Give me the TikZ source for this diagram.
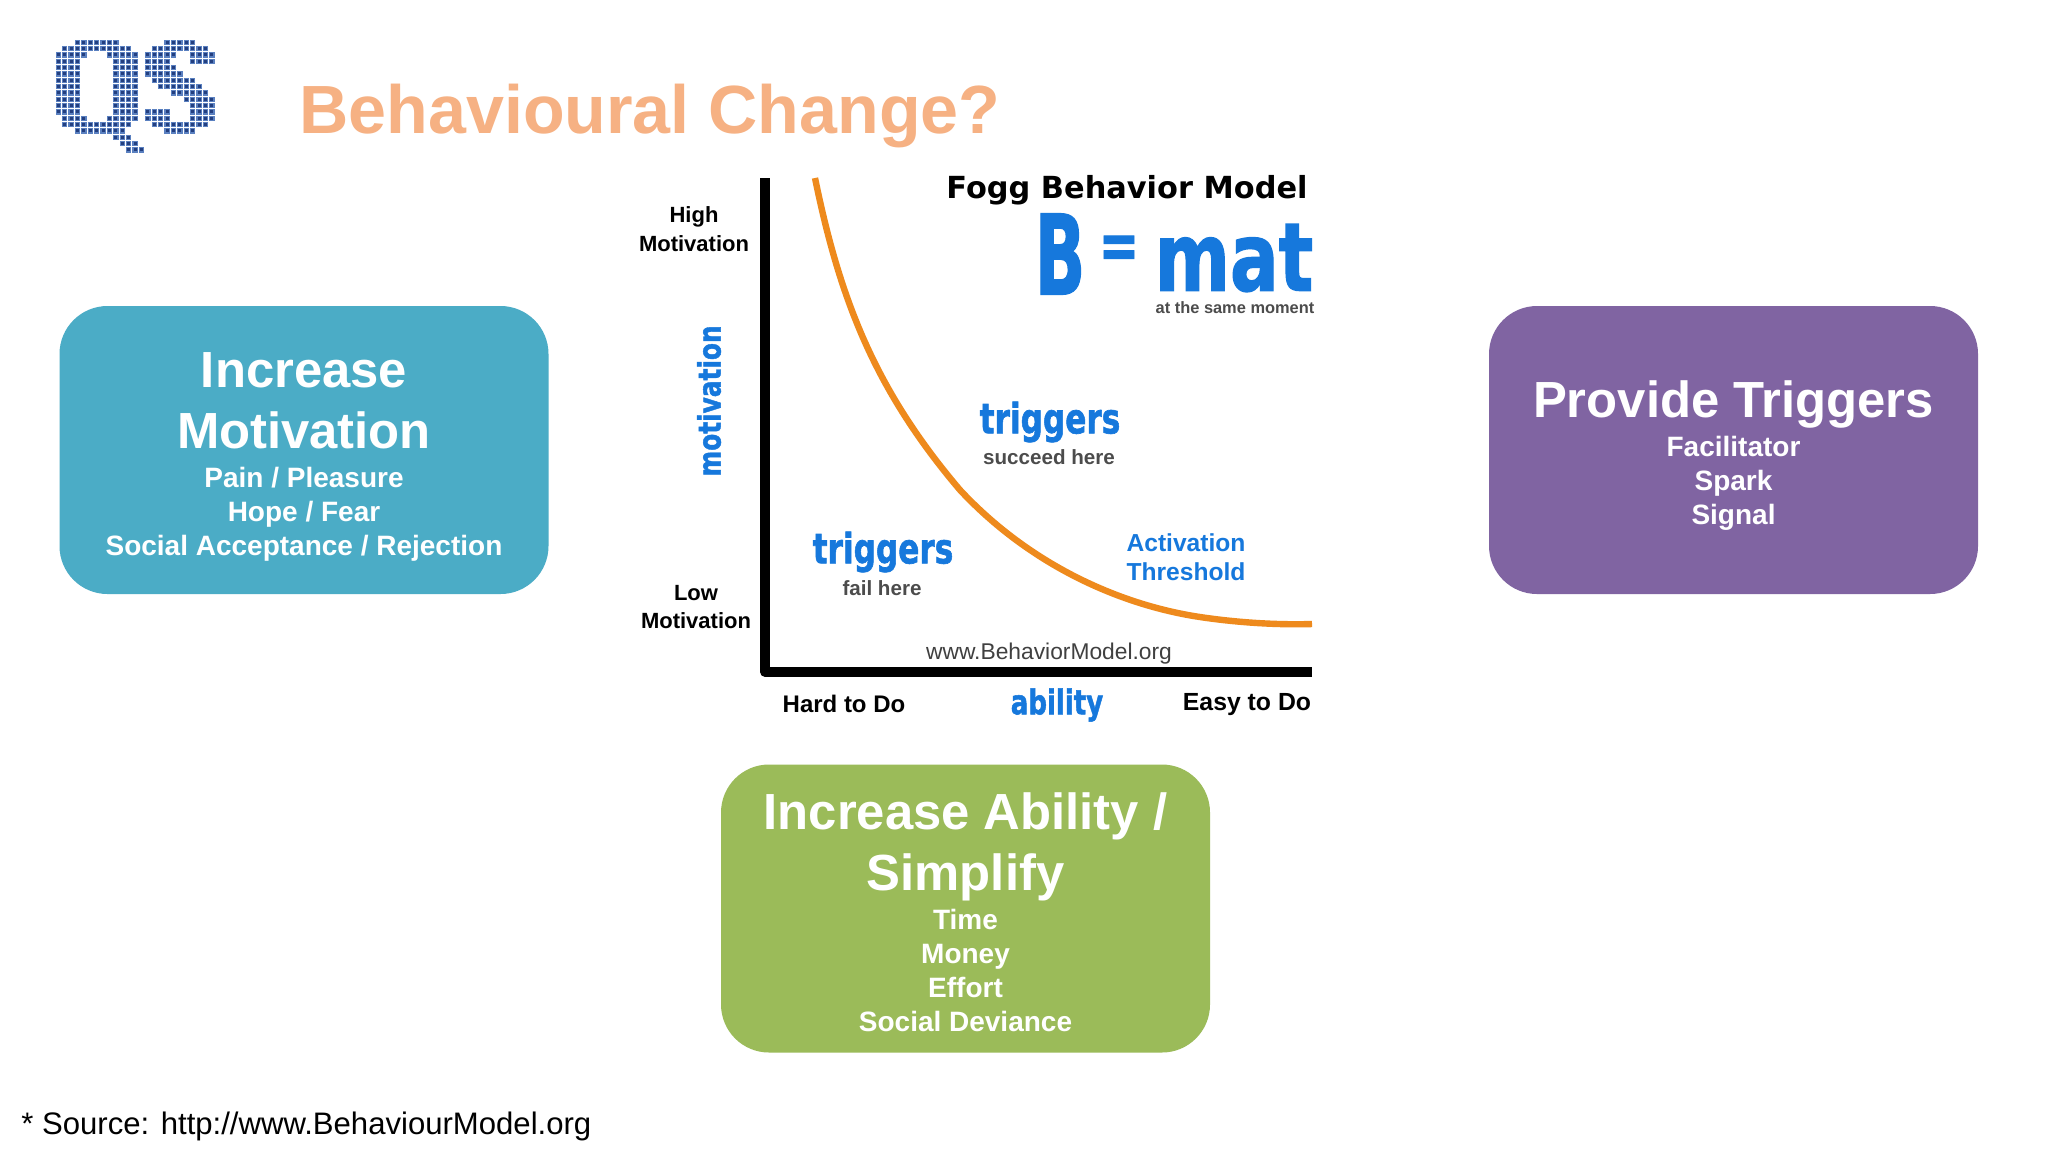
\documentclass[tikz,border=0pt]{standalone}
\usepackage{fontspec}
\setmainfont{Liberation Sans}
\newfontfamily\handfont[BoldFeatures={FakeBold=1.6}]{DejaVu Sans}
\newfontfamily\plainhead{DejaVu Sans}
\definecolor{cblue}{HTML}{4BACC6}
\definecolor{cpurple}{HTML}{8064A2}
\definecolor{cgreen}{HTML}{9BBB59}
\definecolor{ctitle}{HTML}{F6B183}
\definecolor{cmodel}{HTML}{1678DC}
\definecolor{ccurve}{HTML}{EE8A1D}
\definecolor{clogo}{HTML}{5A80C0}
\definecolor{clogod}{HTML}{233F7F}
\begin{document}
\begin{tikzpicture}[x=0.5pt,y=-0.5pt,
  card/.style={rounded corners=24pt,minimum width=244.5pt,minimum height=144pt,inner sep=0pt},
  cardhead/.style={anchor=base,inner sep=0pt,text=white,font=\fontsize{25.4}{30.5}\selectfont\bfseries},
  cardsub/.style={anchor=base,inner sep=0pt,text=white,font=\fontsize{14}{17}\selectfont\bfseries},
  blk/.style={text=black,align=center,inner sep=0pt,font=\fontsize{11}{14.2}\selectfont\bfseries},
  trig/.style={text=cmodel,inner sep=0pt,font=\handfont\fontsize{19}{22}\selectfont\bfseries},
  gry/.style={text=black!70,inner sep=0pt,font=\fontsize{10.3}{12}\selectfont\bfseries}]
\fill[white] (0,0) rectangle (2048,1152);
\useasboundingbox (0,0) rectangle (2048,1152);
% logo
\foreach \r/\a/\b in {0/3/9,0/17/21,1/1/11,1/15/23,2/0/4,2/8/12,2/14/18,2/21/24,3/0/3,3/9/12,3/14/17,3/21/24,
 4/0/3,4/9/12,4/14/18,5/0/3,5/9/12,5/14/19,6/0/3,6/9/12,6/15/21,7/0/3,7/9/12,7/16/22,8/0/3,8/9/12,8/18/23,
 9/0/3,9/9/12,9/20/24,10/0/3,10/9/12,10/21/24,11/0/3,11/9/12,11/14/17,11/21/24,12/1/4,12/8/12,12/14/17,12/21/24,
 13/1/11,13/15/23,14/3/10,14/17/21,15/9/11,16/10/12,17/11/13}
 \foreach \c in {\a,...,\b}{
  \fill[clogo] ({58.3+6.4*\c-2.7},{42.3+6.33*\r-2.7}) rectangle ++(5.4,5.4);
  \fill[clogod] ({58.3+6.4*\c-1.5},{42.3+6.33*\r-1.5}) rectangle ++(3,3);
 }
% title
\node[anchor=base west,inner sep=0pt,text=ctitle,font=\fontsize{34.1}{36}\selectfont\bfseries] (title) at (299,133) {Behavioural Change?};
% cards
\node[card,fill=cblue] (motiv) at (304,450) {};
\node[cardhead] (m1) at (304,387) {Increase};
\node[cardhead] (m2) at (304,448) {Motivation};
\node[cardsub] (m3) at (304,487) {Pain / Pleasure};
\node[cardsub] (m4) at (304,521) {Hope / Fear};
\node[cardsub] (m5) at (304,555) {Social Acceptance / Rejection};
\node[card,fill=cpurple] (trigbox) at (1733.5,450) {};
\node[cardhead] (p1) at (1733.5,417) {Provide Triggers};
\node[cardsub] (p2) at (1733.5,456) {Facilitator};
\node[cardsub] (p3) at (1733.5,490) {Spark};
\node[cardsub] (p4) at (1733.5,524) {Signal};
\node[card,fill=cgreen] (abil) at (965.5,908.5) {};
\node[cardhead] (a1) at (965.5,829) {Increase Ability /};
\node[cardhead] (a2) at (965.5,890) {Simplify};
\node[cardsub] (a3) at (965.5,929) {Time};
\node[cardsub] (a4) at (965.5,963) {Money};
\node[cardsub] (a5) at (965.5,997) {Effort};
\node[cardsub] (a6) at (965.5,1031) {Social Deviance};
% chart
\coordinate (org) at (765,672);
\coordinate (ytop) at (765,178);
\coordinate (xend) at (1312,672);
\draw[line width=4.8pt,line join=round] (ytop) -- (org) -- (xend);
\draw[ccurve,line width=3.2pt] (815,178) .. controls (840,300) and (875,390) .. (960,490) .. controls (1030,565) and (1120,605) .. (1200,617) .. controls (1240,623) and (1280,625) .. (1312,624);
\node[blk] (high) at (694,229) {High\\Motivation};
\node[blk] (low) at (696,607) {Low\\Motivation};
\node[inner sep=0pt,font=\plainhead\fontsize{15.2}{16}\selectfont\bfseries] (fogg) at (1127,190) {Fogg Behavior Model};
\node[text=cmodel,inner sep=0pt,font=\handfont\fontsize{46}{48}\selectfont\bfseries] (bb) at (1060,254) {\scalebox{0.72}[1.2]{B}};
\node[text=cmodel,inner sep=0pt,font=\handfont\fontsize{24}{26}\selectfont\bfseries] (eq) at (1119,252) {\scalebox{1}[1.4]{=}};
\node[text=cmodel,inner sep=0pt,font=\handfont\fontsize{43}{46}\selectfont\bfseries] (mat) at (1234,258) {\scalebox{0.84}[1.1]{mat}};
\node[gry,font=\fontsize{8.2}{9}\selectfont\bfseries] (same) at (1235,308) {at the same moment};
\node[trig,rotate=90,font=\handfont\fontsize{15.5}{18}\selectfont\bfseries] (mot) at (709,401) {\scalebox{0.8}[1]{motivation}};
\node[trig] (t1) at (1050,422) {\scalebox{0.82}[1.1]{triggers}};
\node[gry] (succ) at (1049,457) {succeed here};
\node[trig] (t2) at (883,552) {\scalebox{0.82}[1.1]{triggers}};
\node[gry] (fail) at (882,588) {fail here};
\node[text=cmodel,align=center,inner sep=0pt,font=\fontsize{12.3}{14.5}\selectfont\bfseries] (act) at (1186,557) {Activation\\Threshold};
\node[text=black!75,inner sep=0pt,font=\fontsize{11.4}{14}\selectfont] (url) at (1049,654) {www.BehaviorModel.org};
\node[blk,font=\fontsize{12}{14}\selectfont\bfseries] (hard) at (844,704) {Hard to Do};
\node[blk,font=\fontsize{12.4}{14}\selectfont\bfseries] (easy) at (1247,705) {Easy to Do};
\node[trig,font=\handfont\fontsize{15.5}{18}\selectfont\bfseries] (ab) at (1057,705) {\scalebox{0.84}[1.1]{ability}};
\node[anchor=base west,inner sep=0pt,font=\fontsize{15.55}{18}\selectfont] (src) at (21,1134) {* Source: http://www.BehaviourModel.org};
\end{tikzpicture}
\end{document}
